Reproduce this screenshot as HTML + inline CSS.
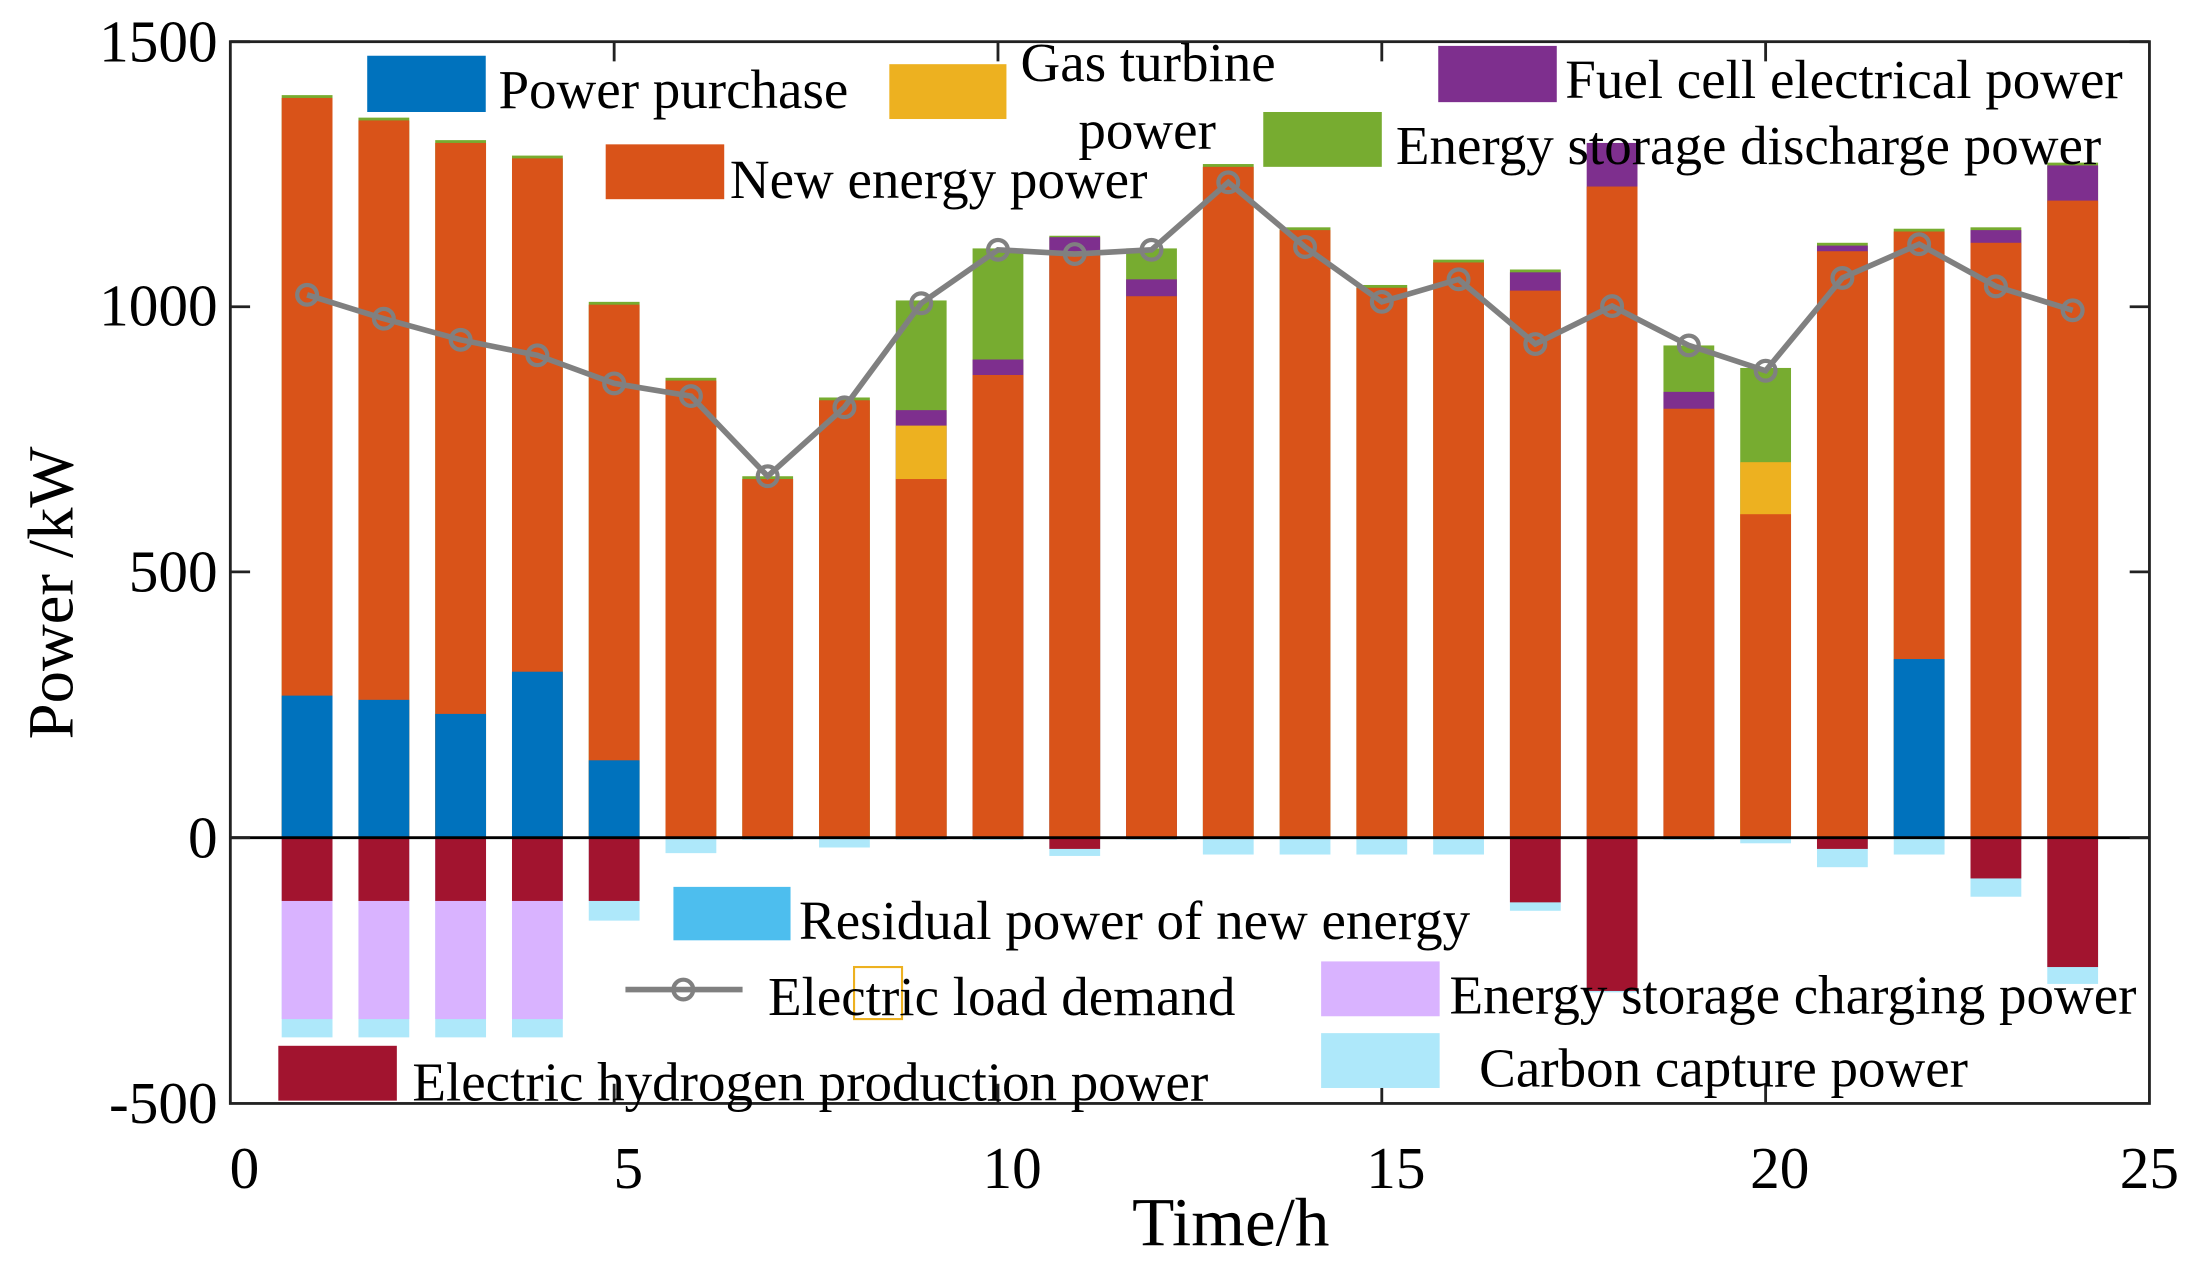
<!DOCTYPE html>
<html><head><meta charset="utf-8"><style>body{margin:0;background:#fff}svg{display:block}</style></head>
<body>
<svg width="2205" height="1273" viewBox="0 0 1560 901" xmlns="http://www.w3.org/2000/svg" font-family="Liberation Serif, serif">
<rect width="1560" height="901" fill="#fff"/>
<g transform="translate(-4.09,-0.36) scale(0.99875,0.99536)">
<g>
<!-- 1 -->
<rect x="203.4" y="68" width="36" height="528" fill="#77AC30"/><rect x="203.4" y="70" width="36" height="526" fill="#D95319"/><rect x="203.4" y="495" width="36" height="101" fill="#0072BD"/>
<rect x="203.4" y="596" width="36" height="142" fill="#AEE8FA"/><rect x="203.4" y="596" width="36" height="129" fill="#D9B3FF"/><rect x="203.4" y="596" width="36" height="45" fill="#A2142F"/>
<!-- 2 -->
<rect x="257.8" y="84" width="36" height="512" fill="#77AC30"/><rect x="257.8" y="86" width="36" height="510" fill="#D95319"/><rect x="257.8" y="498" width="36" height="98" fill="#0072BD"/>
<rect x="257.8" y="596" width="36" height="142" fill="#AEE8FA"/><rect x="257.8" y="596" width="36" height="129" fill="#D9B3FF"/><rect x="257.8" y="596" width="36" height="45" fill="#A2142F"/>
<!-- 3 -->
<rect x="312.2" y="100" width="36" height="496" fill="#77AC30"/><rect x="312.2" y="102" width="36" height="494" fill="#D95319"/><rect x="312.2" y="508" width="36" height="88" fill="#0072BD"/>
<rect x="312.2" y="596" width="36" height="142" fill="#AEE8FA"/><rect x="312.2" y="596" width="36" height="129" fill="#D9B3FF"/><rect x="312.2" y="596" width="36" height="45" fill="#A2142F"/>
<!-- 4 -->
<rect x="366.6" y="111" width="36" height="485" fill="#77AC30"/><rect x="366.6" y="113" width="36" height="483" fill="#D95319"/><rect x="366.6" y="478" width="36" height="118" fill="#0072BD"/>
<rect x="366.6" y="596" width="36" height="142" fill="#AEE8FA"/><rect x="366.6" y="596" width="36" height="129" fill="#D9B3FF"/><rect x="366.6" y="596" width="36" height="45" fill="#A2142F"/>
<!-- 5 -->
<rect x="421" y="215" width="36" height="381" fill="#77AC30"/><rect x="421" y="217" width="36" height="379" fill="#D95319"/><rect x="421" y="541" width="36" height="55" fill="#0072BD"/>
<rect x="421" y="596" width="36" height="59" fill="#AEE8FA"/><rect x="421" y="596" width="36" height="45" fill="#A2142F"/>
<!-- 6 -->
<rect x="475.4" y="269" width="36" height="327" fill="#77AC30"/><rect x="475.4" y="271" width="36" height="325" fill="#D95319"/><rect x="475.4" y="596" width="36" height="11" fill="#AEE8FA"/>
<!-- 7 -->
<rect x="529.8" y="339" width="36" height="257" fill="#77AC30"/><rect x="529.8" y="341" width="36" height="255" fill="#D95319"/><rect x="529.8" y="596" width="36" height="1.5" fill="#AEE8FA"/>
<!-- 8 -->
<rect x="584.2" y="283" width="36" height="313" fill="#77AC30"/><rect x="584.2" y="285" width="36" height="311" fill="#D95319"/><rect x="584.2" y="596" width="36" height="7" fill="#AEE8FA"/>
<!-- 9 -->
<rect x="638.6" y="214" width="36" height="382" fill="#77AC30"/><rect x="638.6" y="292" width="36" height="304" fill="#7E2F8E"/><rect x="638.6" y="303" width="36" height="293" fill="#EDB120"/><rect x="638.6" y="341" width="36" height="255" fill="#D95319"/><rect x="638.6" y="596" width="36" height="1.5" fill="#AEE8FA"/>
<!-- 10 -->
<rect x="693" y="177" width="36" height="419" fill="#77AC30"/><rect x="693" y="256" width="36" height="340" fill="#7E2F8E"/><rect x="693" y="267" width="36" height="329" fill="#D95319"/><rect x="693" y="596" width="36" height="1.5" fill="#AEE8FA"/>
<!-- 11 -->
<rect x="747.4" y="168" width="36" height="428" fill="#77AC30"/><rect x="747.4" y="169" width="36" height="427" fill="#7E2F8E"/><rect x="747.4" y="179" width="36" height="417" fill="#D95319"/>
<rect x="747.4" y="596" width="36" height="13" fill="#AEE8FA"/><rect x="747.4" y="596" width="36" height="8" fill="#A2142F"/>
<!-- 12 -->
<rect x="801.8" y="177" width="36" height="419" fill="#77AC30"/><rect x="801.8" y="199" width="36" height="397" fill="#7E2F8E"/><rect x="801.8" y="211" width="36" height="385" fill="#D95319"/><rect x="801.8" y="596" width="36" height="1.5" fill="#AEE8FA"/>
<!-- 13 -->
<rect x="856.2" y="117" width="36" height="479" fill="#77AC30"/><rect x="856.2" y="119" width="36" height="477" fill="#D95319"/><rect x="856.2" y="596" width="36" height="12" fill="#AEE8FA"/>
<!-- 14 -->
<rect x="910.6" y="162" width="36" height="434" fill="#77AC30"/><rect x="910.6" y="164" width="36" height="432" fill="#D95319"/><rect x="910.6" y="596" width="36" height="12" fill="#AEE8FA"/>
<!-- 15 -->
<rect x="965" y="203" width="36" height="393" fill="#77AC30"/><rect x="965" y="205" width="36" height="391" fill="#D95319"/><rect x="965" y="596" width="36" height="12" fill="#AEE8FA"/>
<!-- 16 -->
<rect x="1019.4" y="185" width="36" height="411" fill="#77AC30"/><rect x="1019.4" y="187" width="36" height="409" fill="#D95319"/><rect x="1019.4" y="596" width="36" height="12" fill="#AEE8FA"/>
<!-- 17 -->
<rect x="1073.8" y="192" width="36" height="404" fill="#77AC30"/><rect x="1073.8" y="194" width="36" height="402" fill="#7E2F8E"/><rect x="1073.8" y="207" width="36" height="389" fill="#D95319"/>
<rect x="1073.8" y="596" width="36" height="52" fill="#AEE8FA"/><rect x="1073.8" y="596" width="36" height="46" fill="#A2142F"/>
<!-- 18 -->
<rect x="1128.2" y="102" width="36" height="494" fill="#7E2F8E"/><rect x="1128.2" y="133" width="36" height="463" fill="#D95319"/>
<rect x="1128.2" y="596" width="36" height="110" fill="#AEE8FA"/><rect x="1128.2" y="596" width="36" height="109" fill="#A2142F"/>
<!-- 19 -->
<rect x="1182.6" y="246" width="36" height="350" fill="#77AC30"/><rect x="1182.6" y="279" width="36" height="317" fill="#7E2F8E"/><rect x="1182.6" y="291" width="36" height="305" fill="#D95319"/><rect x="1182.6" y="596" width="36" height="1.5" fill="#AEE8FA"/>
<!-- 20 -->
<rect x="1237" y="262" width="36" height="334" fill="#77AC30"/><rect x="1237" y="329" width="36" height="267" fill="#EDB120"/><rect x="1237" y="366" width="36" height="230" fill="#D95319"/><rect x="1237" y="596" width="36" height="4" fill="#AEE8FA"/>
<!-- 21 -->
<rect x="1291.4" y="173" width="36" height="423" fill="#77AC30"/><rect x="1291.4" y="175" width="36" height="421" fill="#7E2F8E"/><rect x="1291.4" y="179" width="36" height="417" fill="#D95319"/>
<rect x="1291.4" y="596" width="36" height="21" fill="#AEE8FA"/><rect x="1291.4" y="596" width="36" height="8" fill="#A2142F"/>
<!-- 22 -->
<rect x="1345.8" y="163" width="36" height="433" fill="#77AC30"/><rect x="1345.8" y="165" width="36" height="431" fill="#D95319"/><rect x="1345.8" y="469" width="36" height="127" fill="#0072BD"/><rect x="1345.8" y="596" width="36" height="12" fill="#AEE8FA"/>
<!-- 23 -->
<rect x="1400.2" y="162" width="36" height="434" fill="#77AC30"/><rect x="1400.2" y="164" width="36" height="432" fill="#7E2F8E"/><rect x="1400.2" y="173" width="36" height="423" fill="#D95319"/>
<rect x="1400.2" y="596" width="36" height="42" fill="#AEE8FA"/><rect x="1400.2" y="596" width="36" height="29" fill="#A2142F"/>
<!-- 24 -->
<rect x="1454.6" y="116" width="36" height="480" fill="#77AC30"/><rect x="1454.6" y="118" width="36" height="478" fill="#7E2F8E"/><rect x="1454.6" y="143" width="36" height="453" fill="#D95319"/>
<rect x="1454.6" y="596" width="36" height="104" fill="#AEE8FA"/><rect x="1454.6" y="596" width="36" height="92" fill="#A2142F"/>
</g>
<polyline points="221.4,210 275.8,227 330.2,242 384.6,253 439,273 493.4,282 547.8,339 602.2,290 656.6,216 711,178 765.4,181 819.8,178 874.2,130 928.6,176 983,215 1037.4,199 1091.8,245 1146.2,218 1200.6,246 1255,264 1309.4,198 1363.8,174 1418.2,204 1472.6,221" fill="none" stroke="#808080" stroke-width="4"/>
<g fill="none" stroke="#808080" stroke-width="3">
<circle cx="221.4" cy="210" r="7"/><circle cx="275.8" cy="227" r="7"/><circle cx="330.2" cy="242" r="7"/><circle cx="384.6" cy="253" r="7"/><circle cx="439" cy="273" r="7"/><circle cx="493.4" cy="282" r="7"/><circle cx="547.8" cy="339" r="7"/><circle cx="602.2" cy="290" r="7"/><circle cx="656.6" cy="216" r="7"/><circle cx="711" cy="178" r="7"/><circle cx="765.4" cy="181" r="7"/><circle cx="819.8" cy="178" r="7"/><circle cx="874.2" cy="130" r="7"/><circle cx="928.6" cy="176" r="7"/><circle cx="983" cy="215" r="7"/><circle cx="1037.4" cy="199" r="7"/><circle cx="1091.8" cy="245" r="7"/><circle cx="1146.2" cy="218" r="7"/><circle cx="1200.6" cy="246" r="7"/><circle cx="1255" cy="264" r="7"/><circle cx="1309.4" cy="198" r="7"/><circle cx="1363.8" cy="174" r="7"/><circle cx="1418.2" cy="204" r="7"/><circle cx="1472.6" cy="221" r="7"/>
</g>
<line x1="167" y1="596" x2="1527" y2="596" stroke="#000" stroke-width="2"/>
<rect x="167" y="30" width="1360" height="755" fill="none" stroke="#222" stroke-width="2"/>
<g stroke="#222" stroke-width="2">
<line x1="167" y1="30" x2="181" y2="30"/><line x1="167" y1="218.5" x2="181" y2="218.5"/><line x1="167" y1="407" x2="181" y2="407"/><line x1="167" y1="596" x2="181" y2="596"/>
<line x1="1527" y1="30" x2="1513" y2="30"/><line x1="1527" y1="218.5" x2="1513" y2="218.5"/><line x1="1527" y1="407" x2="1513" y2="407"/><line x1="1527" y1="596" x2="1513" y2="596"/>
<line x1="439" y1="785" x2="439" y2="771"/><line x1="711" y1="785" x2="711" y2="771"/><line x1="983" y1="785" x2="983" y2="771"/><line x1="1255" y1="785" x2="1255" y2="771"/>
<line x1="439" y1="30" x2="439" y2="44"/><line x1="711" y1="30" x2="711" y2="44"/><line x1="983" y1="30" x2="983" y2="44"/><line x1="1255" y1="30" x2="1255" y2="44"/>
</g>
<g font-size="42" text-anchor="end" fill="#000">
<text x="158" y="44">1500</text><text x="158" y="232">1000</text><text x="158" y="421">500</text><text x="158" y="610">0</text><text x="158" y="799">-500</text>
</g>
<g font-size="42" text-anchor="middle">
<text x="177" y="845">0</text><text x="449" y="845">5</text><text x="721" y="845">10</text><text x="993" y="845">15</text><text x="1265" y="845">20</text><text x="1527" y="845">25</text>
</g>
<text x="876" y="886" font-size="49" text-anchor="middle">Time/h</text>
<text transform="translate(55,422) rotate(-90)" font-size="46" text-anchor="middle">Power /kW</text>
<g font-size="39">
<rect x="264" y="40" width="84" height="40" fill="#0072BD"/><text x="357" y="77">Power purchase</text>
<rect x="634" y="46" width="83" height="39" fill="#EDB120"/><text x="727" y="58">Gas turbine</text><text x="768" y="106">power</text>
<rect x="1023" y="33" width="84" height="40" fill="#7E2F8E"/><text x="1113" y="70">Fuel cell electrical power</text>
<rect x="899" y="80" width="84" height="39" fill="#77AC30"/><text x="993" y="117">Energy storage discharge power</text>
<rect x="433" y="103" width="84" height="39" fill="#D95319"/><text x="521" y="141">New energy power</text>
<rect x="481" y="631" width="83" height="38" fill="#4DBEEE"/><text x="570" y="668">Residual power of new energy</text>
<line x1="447" y1="704" x2="530" y2="704" stroke="#808080" stroke-width="4"/><circle cx="488" cy="704" r="7" fill="none" stroke="#808080" stroke-width="3"/>
<rect x="609" y="688" width="34" height="37" fill="none" stroke="#EDB120" stroke-width="1.5"/>
<text x="548" y="722">Electric load demand</text>
<rect x="940" y="684" width="84" height="39" fill="#D9B3FF"/><text x="1031" y="721">Energy storage charging power</text>
<rect x="940" y="735" width="84" height="39" fill="#AEE8FA"/><text x="1052" y="773">Carbon capture power</text>
<rect x="201" y="744" width="84" height="39" fill="#A2142F"/><text x="296" y="783">Electric hydrogen production power</text>
</g>
</g>
</svg>
</body></html>
